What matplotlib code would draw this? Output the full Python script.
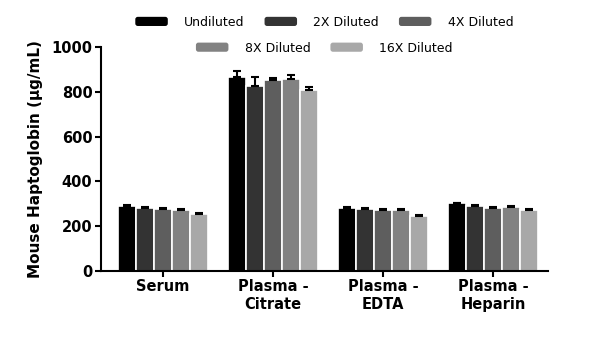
import numpy as np
import matplotlib.pyplot as plt
from matplotlib.legend_handler import HandlerPatch
from matplotlib.patches import FancyBboxPatch, Patch

samples = ['Serum', 'Plasma -\nCitrate', 'Plasma -\nEDTA', 'Plasma -\nHeparin']
dilutions = ['Undiluted', '2X Diluted', '4X Diluted', '8X Diluted', '16X Diluted']
colors = ['#000000', '#333333', '#5e5e5e', '#828282', '#a8a8a8']

undiluted = [289, 866, 281, 302]
dil_2x = [281, 824, 277, 292]
dil_4x = [275, 851, 272, 282]
dil_8x = [272, 856, 270, 285]
dil_16x = [256, 806, 245, 270]
values = [undiluted, dil_2x, dil_4x, dil_8x, dil_16x]

err_undiluted = [6, 28, 3, 3]
err_2x = [4, 42, 3, 4]
err_4x = [4, 12, 3, 5]
err_8x = [4, 18, 5, 5]
err_16x = [5, 14, 4, 6]
errors = [err_undiluted, err_2x, err_4x, err_8x, err_16x]

plt.rcParams['font.family'] = ['DejaVu Sans']

fig = plt.figure(figsize=(6, 3.45), dpi=100)
ax = fig.add_axes([0.168, 0.2145, 0.745, 0.6495])

x = np.arange(len(samples))
w = 0.164
for i, (vals, errs, c) in enumerate(zip(values, errors, colors)):
    pos = x + (i - 2) * w
    ax.bar(pos, vals, width=w, color=c, edgecolor='white', linewidth=1.2, zorder=2)
    ax.errorbar(pos, vals, yerr=[np.zeros(len(errs)), errs], fmt='none',
                ecolor='black', elinewidth=1.5, capsize=3, capthick=1.5, zorder=3)

ax.set_xlim(-0.565, 3.5)
ax.set_ylim(0, 1000)
ax.set_yticks([0, 200, 400, 600, 800, 1000])
ax.set_xticks(x)
ax.set_xticklabels(samples, fontsize=10.5, fontweight='bold')
for lab in ax.get_yticklabels():
    lab.set_fontsize(10.5)
    lab.set_fontweight('bold')
ax.set_ylabel('Mouse Haptoglobin (µg/mL)', fontsize=11, fontweight='bold', labelpad=6)
for s in ['top', 'right']:
    ax.spines[s].set_visible(False)
for s in ['left', 'bottom']:
    ax.spines[s].set_linewidth(1.5)
ax.tick_params(axis='both', width=1.5, length=4, pad=2)


class RoundHandler(HandlerPatch):
    def create_artists(self, legend, orig_handle, xdescent, ydescent, width, height, fontsize, trans):
        p = FancyBboxPatch((-xdescent, -ydescent), width, height,
                           boxstyle='round,pad=0,rounding_size=1.8',
                           facecolor=orig_handle.get_facecolor(), edgecolor='none', transform=trans)
        return [p]


handles = [Patch(facecolor=c) for c in colors]
leg_opts = dict(loc='center', frameon=False, fontsize=9, handlelength=2.6, handleheight=0.75,
                columnspacing=1.6, handletextpad=1.3, borderpad=0,
                handler_map={Patch: RoundHandler()})
leg1 = ax.legend(handles[:3], dilutions[:3], ncol=3, bbox_to_anchor=(0.5, 1.11), **leg_opts)
ax.add_artist(leg1)
ax.legend(handles[3:], dilutions[3:], ncol=2, bbox_to_anchor=(0.5, 0.995), **leg_opts)

fig.savefig('out.png', dpi=100)
